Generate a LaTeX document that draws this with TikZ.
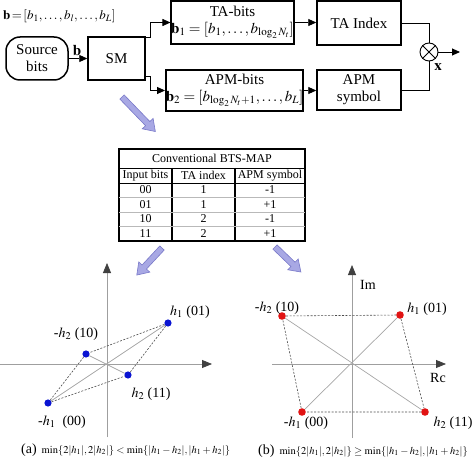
\documentclass[tikz,border=0pt]{standalone}
\usepackage{mathptmx}
\usepackage{fontspec}
\setmainfont{Liberation Serif}
\usetikzlibrary{arrows.meta,calc}
\definecolor{lav}{RGB}{168,168,228}
\definecolor{lavd}{RGB}{120,120,200}
\definecolor{dotblue}{RGB}{10,20,210}
\definecolor{dotred}{RGB}{225,20,20}
\newcommand\fatarrow[3]{%
  \begin{scope}[shift={#1},rotate=#2]
    \filldraw[fill=lav,draw=lavd,line width=0.6pt,line join=miter]
      (0,-3) -- (#3-11,-3) -- (#3-11,-7.5) -- (#3,0) -- (#3-11,7.5) -- (#3-11,3) -- (0,3) -- cycle;
  \end{scope}}
\tikzset{
  box/.style={draw,line width=1.5pt,font=\fontsize{15}{17}\selectfont,align=center,inner sep=0pt},
  conn/.style={line width=0.9pt,-{Triangle[length=8pt,width=7pt]}},
  wire/.style={line width=0.9pt},
  tcell/.style={font=\fontsize{12}{14}\selectfont,inner sep=0pt},
  axis/.style={gray!75,line width=0.8pt,-{Triangle[length=10pt,width=8pt,color=black!75]}},
  lab/.style={font=\fontsize{14}{16}\selectfont,inner sep=0pt},
  bdot/.style={circle,fill=dotblue,inner sep=0pt,minimum size=7.2pt},
  rdot/.style={circle,fill=dotred,inner sep=0pt,minimum size=7.6pt},
  solidl/.style={gray!70,line width=0.7pt},
  dashl/.style={gray!60!black,line width=0.6pt,dash pattern=on 2pt off 1.5pt},
}
\begin{document}
\begin{tikzpicture}[x=1pt,y=-1pt]
\useasboundingbox (0,0) rectangle (474,457);
% ---------- top block diagram ----------
\node[anchor=west,font=\fontsize{13}{15}\selectfont,inner sep=0pt] (bvec) at (3,16) {$\mathbf{b}\!=\![b_1,\ldots,b_l,\ldots,b_L]$};
\node[box,rounded corners=14pt,minimum width=62pt,minimum height=43pt] (src) at (37,58.5) {Source\\bits};
\node[box,minimum width=57pt,minimum height=43pt] (sm) at (116.5,58.5) {SM};
\node[box,minimum width=121pt,minimum height=43pt] (tab) at (232.5,22.5) {TA-bits\\$\mathbf{b}_1=[b_1,\ldots,b_{\log_2 N_t}]$};
\node[box,minimum width=125pt,minimum height=41pt] (apb) at (234.5,90.5) {APM-bits\\$\mathbf{b}_2=[b_{\log_2 N_t+1},\ldots,b_L]$};
\node[box,minimum width=84pt,minimum height=44pt] (tai) at (359,23) {TA Index};
\node[box,minimum width=84pt,minimum height=40pt] (aps) at (359,90) {APM\\symbol};
\node[draw,circle,line width=0.9pt,minimum size=18pt,inner sep=0pt] (mult) at (429,52) {};
\draw[line width=0.9pt] (mult.north west) -- (mult.south east) (mult.north east) -- (mult.south west);
\coordinate (out) at (460,52);
\draw[conn] (src.east) -- node[above,font=\fontsize{15}{17}\selectfont,inner sep=2pt,pos=0.45] (blab) {$\mathbf{b}$} (sm.west);
\draw[conn] ([yshift=-1.5pt]sm.north east) -- ++(5,0) |- (tab.west);
\draw[conn] ([yshift=4pt]sm.south east) -- ++(5,0) |- (apb.west);
\draw[conn] (tab.east) -- (tab.east -| tai.west);
\draw[conn] (apb.east) -- (apb.east -| aps.west);
\draw[wire] (tai.east) -| (mult.north);
\draw[wire] (aps.east) -| (mult.south);
\draw[conn] (mult.east) -- (out);
\node[font=\fontsize{15}{17}\selectfont,inner sep=0pt] (xlab) at (438,67) {$\mathbf{x}$};
% ---------- fat arrows ----------
\fatarrow{(122,97)}{-46}{48}
\fatarrow{(162,248)}{-133}{37}
\fatarrow{(275,247)}{-44}{36}
% ---------- table ----------
\draw[line width=1.2pt] (119,149) rectangle (305,241);
\draw[line width=0.9pt] (119,168) -- (305,168) (119,183) -- (305,183);
\draw[line width=1.2pt] (172,168) -- (172,241) (235,168) -- (235,241);
\draw[gray!55,line width=0.5pt] (119,197.5) -- (305,197.5) (119,212) -- (305,212) (119,226.5) -- (305,226.5);
\node[tcell] (tt) at (212,158.5) {Conventional BTS-MAP};
\node[tcell] (h1c) at (145.5,175.5) {Input bits};
\node[tcell] (h2c) at (203.5,175.5) {TA index};
\node[tcell] (h3c) at (270,175.5) {APM symbol};
\node[tcell] (r1a) at (145.5,190) {00};
\node[tcell] (r1b) at (203.5,190) {1};
\node[tcell] (r1c) at (270,190) {-1};
\node[tcell] (r2a) at (145.5,204.5) {01};
\node[tcell] (r2b) at (203.5,204.5) {1};
\node[tcell] (r2c) at (270,204.5) {+1};
\node[tcell] (r3a) at (145.5,219) {10};
\node[tcell] (r3b) at (203.5,219) {2};
\node[tcell] (r3c) at (270,219) {-1};
\node[tcell] (r4a) at (145.5,233.5) {11};
\node[tcell] (r4b) at (203.5,233.5) {2};
\node[tcell] (r4c) at (270,233.5) {+1};
% ---------- constellation (a) ----------
\draw[axis] (107,437) -- (107,263);
\draw[axis] (0,364) -- (212,364);
\node[bdot] (a1) at (168,323) {};
\node[bdot] (am2) at (86,354) {};
\node[bdot] (a2) at (128,375) {};
\node[bdot] (am1) at (48,403) {};
\draw[solidl] (am1) -- (a1);
\draw[solidl] (am2) -- (a2);
\draw[dashl] (a1) -- (am2) -- (am1) -- (a2) -- (a1);
\node[lab] (la1) at (190,312) {$h_1$ (01)};
\node[lab] (lam2) at (76,334) {-$h_2$ (10)};
\node[lab] (la2) at (151,394) {$h_2$ (11)};
\node[lab] (lam1) at (62,422) {-$h_1$\ \ (00)};
\node[anchor=west,inner sep=0pt] (capa) at (21,450) {\fontsize{14}{16}\selectfont (a)\hspace{5pt}\fontsize{10.5}{12}\selectfont$\min\{2|h_1|,2|h_2|\}<\min\{|h_1-h_2|,|h_1+h_2|\}$};
% ---------- constellation (b) ----------
\draw[axis] (352,438) -- (352,265);
\draw[axis] (272,364) -- (446,364);
\node[rdot] (b1) at (400,315) {};
\node[rdot] (bm2) at (282,316) {};
\node[rdot] (b2) at (425,412) {};
\node[rdot] (bm1) at (302,412) {};
\draw[solidl] (bm1) -- (b1);
\draw[solidl] (bm2) -- (b2);
\draw[dashl] (bm2) -- (b1) -- (b2) -- (bm1) -- (bm2);
\node[lab] (im) at (368,285) {Im};
\node[lab] (rc) at (438,378) {Rc};
\node[lab] (lbm2) at (277,308) {-$h_2$ (10)};
\node[lab] (lb1) at (427,309) {$h_1$ (01)};
\node[lab] (lbm1) at (306,423) {-$h_1$ (00)};
\node[lab] (lb2) at (453,423) {$h_2$ (11)};
\node[anchor=west,inner sep=0pt] (capb) at (258,451) {\fontsize{14}{16}\selectfont (b)\hspace{5pt}\fontsize{10.5}{12}\selectfont$\min\{2|h_1|,2|h_2|\}\geq\min\{|h_1-h_2|,|h_1+h_2|\}$};
\end{tikzpicture}
\end{document}
